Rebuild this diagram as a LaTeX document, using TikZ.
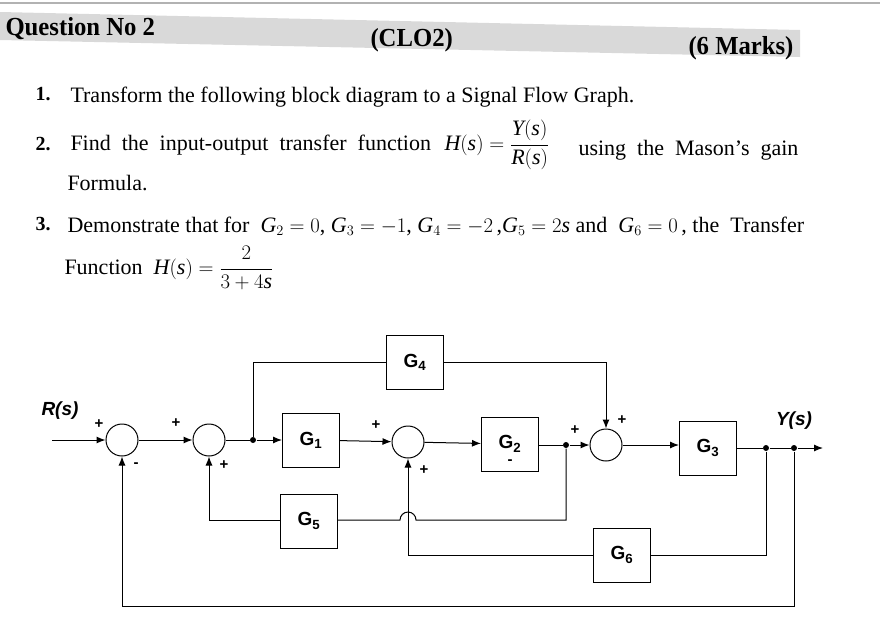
\documentclass[tikz,border=0pt]{standalone}
\usepackage{fontspec}
\setmainfont{Liberation Serif}
\setsansfont{Liberation Sans}
\usetikzlibrary{arrows.meta}
\newcommand{\iv}[1]{\textit{#1}}
\begin{document}
\begin{tikzpicture}[x=1pt,y=-1pt,
  txt/.style={anchor=base west,inner sep=0pt,font=\fontsize{22}{26}\selectfont},
  hd/.style={anchor=base west,inner sep=0pt,font=\bfseries\fontsize{26}{30}\selectfont},
  num/.style={anchor=base west,inner sep=0pt,font=\bfseries\fontsize{20}{22}\selectfont},
  arr/.style={-{Latex[length=9pt,width=7pt]}},
  sumn/.style={circle,draw,line width=1pt,minimum size=32pt,inner sep=0pt},
  blk/.style={draw,line width=1pt,minimum width=57pt,minimum height=54pt,font=\sffamily\bfseries\fontsize{19}{22}\selectfont},
  dotn/.style={circle,fill,inner sep=0pt,minimum size=6pt},
  sg/.style={font=\sffamily\bfseries\fontsize{15}{15}\selectfont,inner sep=1pt},
  lbl/.style={font=\sffamily\bfseries\itshape\fontsize{19}{22}\selectfont},
  every path/.style={line width=1pt}]
\useasboundingbox (0,0) rectangle (880,624);
% header
\fill[gray!30] (0,12) -- (800,30) -- (800,57) -- (0,40) -- cycle;
\draw[gray!60,line width=1.5pt] (0,3) -- (880,3);
\node[hd] (h1) at (5,35) {\scalebox{0.95}[1]{Question No 2}};
\node[hd] (h2) at (370,46) {\scalebox{0.95}[1]{(CLO2)}};
\node[hd] (h3) at (688,54) {\scalebox{0.95}[1]{(6 Marks)}};
% items
\node[num] (n1) at (35,100) {1.};
\node[txt] (t1) at (70,102) {Transform the following block diagram to a Signal Flow Graph.};
\node[num] (n2) at (35,150) {2.};
\node[txt] (t2) at (70,150) {Find\ \ the\ \ input-output\ \ transfer\ \ function};
\node[txt] (t2m) at (444,150) {$\displaystyle \iv{H}(\iv{s})=\frac{\iv{Y}(\iv{s})}{\iv{R}(\iv{s})}$};
\node[txt] (t2b) at (578,155) {using\ \ the\ \ Mason's\ \ gain};
\node[txt] (t2c) at (67,190) {Formula.};
\node[num] (n3) at (35,230) {3.};
\node[txt] (t3) at (67,232) {Demonstrate that for\ \ $\iv{G}_2=0$, $\iv{G}_3=-1$, $\iv{G}_4=-2$\,,$\iv{G}_5=2\iv{s}$ and\ \ $\iv{G}_6=0$\,, the\ \ Transfer};
\node[txt] (t3b) at (64,274) {Function\ \ $\displaystyle \iv{H}(\iv{s})=\frac{2}{3+4\iv{s}}$};
% diagram
\node[sumn] (S1) at (122,440) {};
\node[sumn] (S2) at (209,440) {};
\node[sumn] (S3) at (408,442) {};
\node[sumn] (S4) at (606,445) {};
\node[blk] (G1) at (311,440) {G\textsubscript{1}};
\node[blk] (G4) at (415,362) {G\textsubscript{4}};
\node[blk] (G5) at (309,521) {G\textsubscript{5}};
\node[blk] (G2) at (510,444) {G\textsubscript{2}};
\node[blk] (G3) at (708,448) {G\textsubscript{3}};
\node[blk] (G6) at (622,555) {G\textsubscript{6}};
\node[dotn] (B1) at (253,440) {};
\node[dotn] (B2) at (566,445) {};
\node[dotn] (B3) at (766,448) {};
\node[dotn] (B4) at (794,448) {};
\coordinate (in) at (52,440);
\coordinate (out) at (823,448);
\node[lbl] (R) at (60,411) {R(s)};
\node[lbl] (Y) at (794,421) {Y(s)};
\draw[arr] (in) -- (S1);
\draw[arr] (S1) -- (S2);
\draw[arr] (S2) -- (B1) -- (G1);
\draw[arr] (G1) -- (S3);
\draw[arr] (S3) -- (G2);
\draw[arr] (G2.east|-B2) -- (B2) -- (S4);
\draw[arr] (S4) -- (G3.west|-S4);
\draw[arr] (G3.east|-B3) -- (B3) -- (B4) -- (out);
\draw (B1) |- (G4.west);
\draw[arr] (G4.east) -| (S4.north);
\draw (B2) |- (416,520) arc[start angle=0,end angle=-180,radius=8] -- (G5.east|-0,520);
\draw[arr] (G5.west|-0,520) -| (S2.south);
\draw (B3) |- (G6.east);
\draw[arr] (G6.west) -| (S3.south);
\draw[arr] (B4) |- (122,606) -- (S1.south);
% signs
\node[sg] (p1) at (99,424) {+};
\node[sg] (m1) at (136,465) {-};
\node[sg] (p2) at (176,423) {+};
\node[sg] (p3) at (224,465) {+};
\node[sg] (p4) at (376,425) {+};
\node[sg] (p5) at (424,470) {+};
\node[sg] (p6) at (575,430) {+};
\node[sg] (p7) at (622,420) {+};
\node[sg] (m2) at (510,462) {-};
\end{tikzpicture}
\end{document}
